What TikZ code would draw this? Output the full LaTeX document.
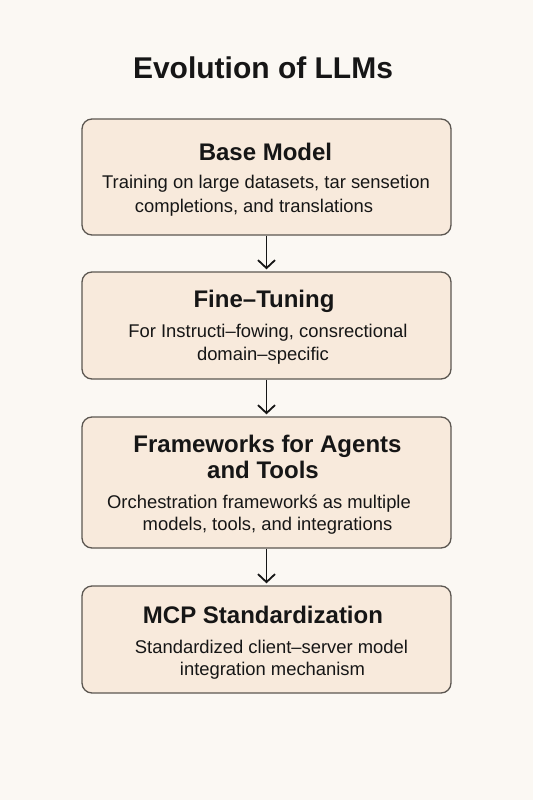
\documentclass[tikz,border=0pt]{standalone}
\usepackage{fontspec}
\setmainfont{Liberation Sans}
\usetikzlibrary{arrows.meta}

\definecolor{pagebg}{HTML}{FBF8F3}
\definecolor{stagefill}{HTML}{F8EADC}
\definecolor{stageline}{HTML}{5C5751}
\definecolor{inkline}{HTML}{161616}

\begin{document}
\begin{tikzpicture}[x=1pt,y=-1pt,
  stage/.style={draw=stageline,fill=stagefill,line width=1.3pt,rounded corners=10pt,
    minimum width=369pt,inner sep=0pt},
  head/.style={anchor=base,inner sep=0pt,text=inkline,font=\fontsize{24}{27}\selectfont\bfseries},
  body/.style={anchor=base,inner sep=0pt,text=inkline,font=\fontsize{18.4}{22}\selectfont},
  flow/.style={draw=inkline,line width=1.8pt,-{Straight Barb[length=8pt,width=17pt]},shorten >=2pt}]

  \fill[pagebg] (0,0) rectangle (533,800);

  \node[anchor=base,inner sep=0pt,text=inkline,font=\fontsize{30}{34}\selectfont\bfseries]
    (title) at (263,78) {Evolution of LLMs};

  % the four stages
  \node[stage,minimum height=116pt] (base) at (266.5,177) {};
  \node[stage,minimum height=107pt] (tune) at (266.5,325.5) {};
  \node[stage,minimum height=131pt] (agents) at (266.5,482.5) {};
  \node[stage,minimum height=107pt] (mcp) at (266.5,639.5) {};

  \node[head] (baseHead) at (265.5,160) {Base Model};
  \node[body] (baseLineA) at (266,188) {Training on large datasets, tar sensetion};
  \node[body] (baseLineB) at (254,212) {completions, and translations};

  \node[head] (tuneHead) at (264,307) {Fine–Tuning};
  \node[body] (tuneLineA) at (268,337) {For Instructi–fowing, consrectional};
  \node[body] (tuneLineB) at (263,360) {domain–specific};

  \node[head] (agentsHeadA) at (267.5,452) {Frameworks for Agents};
  \node[head] (agentsHeadB) at (263,478) {and Tools};
  \node[body] (agentsLineA) at (259,508) {Orchestration frameworkś as multiple};
  \node[body] (agentsLineB) at (267.5,530) {models, tools, and integrations};

  \node[head] (mcpHead) at (263,623) {MCP Standardization};
  \node[body] (mcpLineA) at (271.5,653) {Standardized client–server model};
  \node[body] (mcpLineB) at (272.5,675) {integration mechanism};

  % connectors
  \draw[flow] (base.south) -- (tune.north);
  \draw[flow] (tune.south) -- (agents.north);
  \draw[flow] (agents.south) -- (mcp.north);

\end{tikzpicture}
\end{document}
